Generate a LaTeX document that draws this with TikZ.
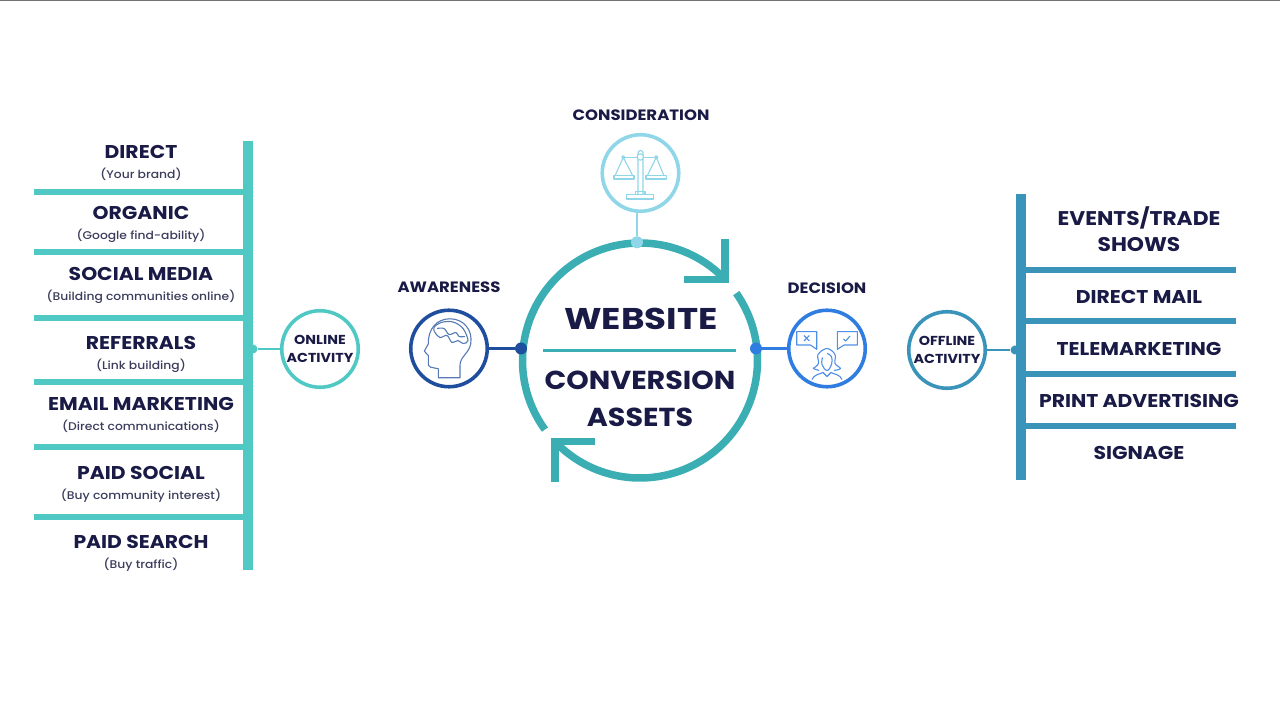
\documentclass[tikz,border=0pt]{standalone}
\usepackage{fontspec}
\setmainfont{Poppins}[FakeStretch=1.1]
\newfontfamily\widefont{Poppins}[FakeStretch=1.19]
\newfontfamily\subfont{Poppins Medium}[FakeStretch=1.1]
\usetikzlibrary{positioning}
\definecolor{navy}{HTML}{191A45}
\definecolor{subgrey}{HTML}{3C3D5C}
\definecolor{ringteal}{HTML}{3AAEB2}
\definecolor{onteal}{HTML}{50C8C4}
\definecolor{offblue}{HTML}{3A93B8}
\definecolor{awblue}{HTML}{1F4E9E}
\definecolor{deblue}{HTML}{2F7DE0}
\definecolor{coblue}{HTML}{8FD6E8}
\tikzset{
  x=1pt, y=1pt,
  headtext/.style={text=navy, anchor=base, yshift=-7.4pt, font=\bfseries\fontsize{18.5}{26}\selectfont},
  subtext/.style={text=subgrey, anchor=base, yshift=-4.6pt, font=\subfont\fontsize{11.2}{14}\selectfont},
  stagetext/.style={text=navy, anchor=base, yshift=-5.6pt, font=\bfseries\fontsize{15}{16}\selectfont},
  bigtext/.style={text=navy, anchor=base, yshift=-10.2pt, font=\bfseries\fontsize{26}{30}\selectfont},
  smallcircle/.style={circle, draw, fill=white, line width=3.6pt, minimum size=76.5pt, inner sep=0pt,
    align=center, text=navy, font=\bfseries\fontsize{13}{18}\selectfont},
  dotnode/.style={circle, inner sep=0pt, minimum size=#1},
  iconline/.style={line width=1.1pt, line join=round},
  ringline/.style={ringteal, line width=7.5pt},
}
\begin{document}
\begin{tikzpicture}
 \useasboundingbox (0,0) rectangle (1280,720);
 \coordinate (edgeL) at (0,719.5);
 \coordinate (edgeR) at (1280,719.5);
 \draw[black!55, line width=1pt] (edgeL) -- (edgeR);

 % online side
 \coordinate (onbartop) at (248,579);
 \coordinate (onbarbot) at (248,150);
 \draw[onteal, line width=10.5pt] (onbartop) -- (onbarbot);
 \foreach \i/\y in {a/191.7,b/252.3,c/318.3,d/381.7,e/447.3,f/516.7} {
  \coordinate (onrule\i) at (34,720-\y);
  \draw[onteal, line width=6pt] (onrule\i) -- (onrule\i -| onbartop);
 }
 \foreach \i/\head/\sub/\y/\z in {a/DIRECT/Your brand/151/173.5,
   b/ORGANIC/Google find-ability/212/234.5,
   c/SOCIAL MEDIA/Building communities online/273/295.5,
   d/REFERRALS/Link building/342/364.5,
   e/EMAIL MARKETING/Direct communications/403/425.5,
   f/PAID SOCIAL/Buy community interest/472/494.5,
   g/PAID SEARCH/Buy traffic/541.5/564} {
  \node[headtext] (onhead\i) at (141,720-\y) {\head};
  \node[subtext] (onsub\i) at (141,720-\z) {(\sub)};
 }
 \node[smallcircle, draw=onteal] (online) at (320,371) {ONLINE\\ACTIVITY};
 \node[dotnode=9pt, fill=onteal] (ondot) at (253,371) {};
 \draw[onteal, line width=2.4pt] (online) -- (ondot);

 % offline side
 \coordinate (offbartop) at (1021,526);
 \coordinate (offbarbot) at (1021,240);
 \draw[offblue, line width=10.5pt] (offbartop) -- (offbarbot);
 \foreach \i/\y in {a/270,b/321,c/373.7,d/426} {
  \coordinate (offrule\i) at (1236,720-\y);
  \draw[offblue, line width=6pt] (offrule\i) -- (offrule\i -| offbartop);
 }
 \node[headtext, anchor=center, yshift=7.4pt, align=center, font=\bfseries\fontsize{19.8}{26}\selectfont] (offheada) at (1139,490.5) {EVENTS/TRADE\\SHOWS};
 \foreach \i/\head/\y in {b/DIRECT MAIL/296,c/TELEMARKETING/348,d/PRINT ADVERTISING/400,e/SIGNAGE/452} {
  \node[headtext] (offhead\i) at (1139,720-\y) {\head};
 }
 \node[smallcircle, draw=offblue] (offline) at (947,370) {OFFLINE\\ACTIVITY};
 \node[dotnode=9pt, fill=offblue] (offdot) at (1015,370) {};
 \draw[offblue, line width=2.4pt] (offline) -- (offdot);

 % big ring
 \coordinate (hub) at (640,359.5);
 \draw[ringline] ([shift={(216:117.5pt)}]hub) arc (216:43:117.5pt);
 \draw[ringline] ([shift={(35:117.5pt)}]hub) arc (35:-137:117.5pt);
 \coordinate (tipa) at (725,440.5);
 \coordinate (tipb) at (555,278.5);
 \draw[ringline, miter limit=4] (725,481) -- (tipa) -- (684,440.5);
 \draw[ringline, miter limit=4] (555,238) -- (tipb) -- (595,278.5);
 \node[bigtext, font=\widefont\bfseries\fontsize{30}{30}\selectfont] (website) at (641,401) {WEBSITE};
 \node[bigtext] (conversion) at (640,340.5) {CONVERSION};
 \node[bigtext] (assets) at (640,304) {ASSETS};
 \coordinate (mida) at (543,369.5);
 \coordinate (midb) at (736,369.5);
 \draw[ringteal, line width=3pt] (mida) -- (midb);

 % stages
 \node[smallcircle, draw=awblue] (awareness) at (449,371.5) {};
 \node[smallcircle, draw=coblue] (consideration) at (640.5,547) {};
 \node[smallcircle, draw=deblue] (decision) at (827,371.5) {};
 \node[stagetext] (awarenesslabel) at (449,433) {AWARENESS};
 \node[stagetext] (considerationlabel) at (641,605) {CONSIDERATION};
 \node[stagetext] (decisionlabel) at (827,432) {DECISION};
 \node[dotnode=12pt, fill=awblue] (awdot) at (521,371.5) {};
 \node[dotnode=12pt, fill=coblue] (codot) at (637,477.7) {};
 \node[dotnode=12pt, fill=deblue] (dedot) at (756,371.5) {};
 \draw[awblue, line width=2.4pt] (awareness) -- (awdot);
 \draw[coblue, line width=2.4pt] (consideration.south -| codot) -- (codot);
 \draw[deblue, line width=2.4pt] (decision) -- (dedot);

 % head icon
 \begin{scope}[shift={(awareness.center)}, draw=awblue!75, iconline]
  \draw (-10.7,-29.3) -- (-10.7,-20.3) -- (-18.3,-18.7) .. controls (-20.5,-18) and (-20.7,-16.5) .. (-20.7,-15.3)
    -- (-20.7,-7) -- (-24.7,-2.7) -- (-20.7,4.7) .. controls (-21,20) and (-12,29.7) .. (1,29.7)
    .. controls (15,29.7) and (24,18) .. (21.7,4.7) .. controls (20,-5) and (11,-8) .. (11,-17)
    -- (11,-29.3) -- cycle;
  \draw plot[smooth cycle, tension=0.6] coordinates {(-15,21) (-8,26) (4,26.5) (14,20) (19,8) (14,5) (9,8)
    (3,6) (-2,13) (-9,11) (-14,16)};
  \draw plot[smooth, tension=0.6] coordinates {(-12,20) (-5,20) (0,14) (7,16) (10,12) (16,12)};
 \end{scope}

 % scales icon
 \begin{scope}[shift={(consideration.center)}, draw=coblue, iconline]
  \draw (-2.5,-21.3) -- (-2.5,20) arc (180:0:2.5pt) -- (2.5,-21.3);
  \draw (-13.8,-26) rectangle (12.8,-21.3);
  \draw (-5,-21.3) -- (-5,-18.5) -- (4.5,-18.5) -- (4.5,-21.3);
  \draw (-17.2,15.7) -- (16.2,15.7);
  \draw[fill=white] (-0.2,16) circle (3.2pt);
  \draw[fill=white] (-17.2,15.7) circle (1.6pt);
  \draw[fill=white] (15.8,15.7) circle (1.6pt);
  \draw (-17.2,15.7) -- (-25.5,-2.7) (-17.2,15.7) -- (-7.8,-2.7);
  \draw (15.8,15.7) -- (6.8,-2.7) (15.8,15.7) -- (23.5,-2.7);
  \draw (-26.5,-6) rectangle (-6.5,-2.7);
  \draw (5.5,-6) rectangle (26.2,-2.7);
 \end{scope}

 % decision icon
 \begin{scope}[shift={(decision.center)}, draw=deblue!85, iconline]
  \draw (-30.3,16.8) -- (-10.3,16.8) -- (-10.3,-0.8) -- (-16.5,3.5) -- (-30.3,3.5) -- cycle;
  \draw (10.3,16.8) -- (30.3,16.8) -- (30.3,3.5) -- (17,3.5) -- (10.3,-0.8) -- cycle;
  \draw (-23,13) -- (-17.6,7.5) (-23,7.5) -- (-17.6,13);
  \draw (16.5,9.5) -- (18.7,7.5) -- (23,12.5);
  \draw plot[smooth, tension=0.6] coordinates {(-14,-20) (-8.5,-15) (-9,-6) (0,0) (8,-6) (8,-15) (13.5,-20) (7,-22)};
  \draw plot[smooth, tension=0.6] coordinates {(-14,-20) (-8,-22)};
  \draw plot[smooth, tension=0.7] coordinates {(-4.5,-9) (-5,-16) (0,-22) (4.5,-16) (4.5,-8) (0,-5)};
  \draw (-15,-31) .. controls (-13,-26) and (-8,-26) .. (-4,-24) -- (0,-28) -- (4,-24)
    .. controls (8,-26) and (13,-26) .. (15,-31);
 \end{scope}
\end{tikzpicture}
\end{document}
